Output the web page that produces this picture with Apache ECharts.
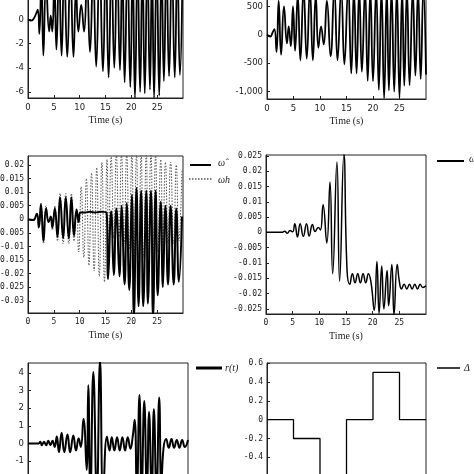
<!DOCTYPE html>
<html><head><meta charset="utf-8">
<script src="https://cdn.jsdelivr.net/npm/echarts@6/dist/echarts.min.js"></script>
<style>html,body{margin:0;padding:0;background:#fff}#c{width:474px;height:474px}</style>
</head><body><div id="c"></div>
<script>
// ---- data (extrema points) ----
const tTL=[0,0.5,1,1.6,1.9,2.2,2.6,2.97,3.5,4.1,4.4,4.7,5.1,5.5,6.0,6.5,7.0,7.6,8.2,8.8,9.3,9.75,10.3,10.85,11.4,12,12.6,13.2,13.85,14.5,15.05,15.6,16.15,16.7,17.25,17.8,18.25,18.7,19.25,19.8,20.25,20.7,21.2,21.7,22.15,22.6,23.1,23.6,24.0,24.4,24.9,25.4,25.85,26.3,26.8,27.3,27.85,28.4,28.9,29.4,29.9];
const yTL=[0,-0.1,0,0.5,0.8,-1.2,4,-3,3,-1,0.3,-1,3,-2.5,4,-3,4,-3.1,4,-3.1,2.5,-1,1.2,-1,3,-2.7,4,-3.9,4.5,-4.3,4.5,-4.8,4.5,-4,4.5,-4.2,4.5,-5.2,4.5,-5.6,4.5,-6.5,4.5,-6,4.5,-6.1,4.5,-5.8,4.5,-6.5,4.5,-6.3,4.5,-5.1,4.5,-4.7,4.5,-4.8,4.5,-4.6,4];
const tTR=[0,0.6,1.1,1.4,1.8,2.2,2.66,3.2,3.77,4.1,4.5,4.9,5.3,5.8,6.3,6.9,7.5,8.1,8.65,9.2,9.7,10.2,10.7,11.3,12.0,12.7,13.3,14.0,14.6,15.3,15.9,16.4,16.9,17.4,17.9,18.5,19.0,19.5,20.0,20.6,21.1,21.6,22.1,22.6,23.0,23.5,24.0,24.5,25.0,25.5,25.9,26.4,26.9,27.5,28.0,28.5,29.0,29.5,30];
const yTR=[0,-30,50,100,-300,600,-350,500,-150,150,-200,500,-280,700,-450,800,-420,800,-450,700,-230,150,-170,600,-380,800,-450,800,-520,800,-680,800,-680,800,-650,800,-810,800,-820,800,-970,800,-1120,800,-980,800,-1000,800,-1100,800,-900,800,-890,800,-720,800,-780,800,-700];
const tWh=[0,1,1.7,2.1,2.5,3.0,3.5,4.0,4.4,4.7,5.2,5.7,6.2,6.8,7.3,7.9,8.4,8.9,9.4,9.8,10.3,10.8,11.3,11.8,12.3,12.8,13.3,13.8,14.3,14.8,15.3,15.6,16.1,16.6,17.1,17.6,18.1,18.6,19.1,19.6,20.1,20.5,21.0,21.4,21.9,22.3,22.9,23.2,23.8,24.2,24.7,25.1,25.7,26.1,26.6,27.1,27.6,28.2,28.7,29.2,29.8];
const yWh=[0,-0.0003,0.002,-0.003,0.006,-0.009,0.005,-0.001,0.001,-0.004,0.005,-0.008,0.0095,-0.009,0.0095,-0.009,0.0095,-0.008,0.004,-0.012,0.012,-0.014,0.015,-0.017,0.017,-0.019,0.019,-0.021,0.021,-0.023,0.022,-0.008,0.023,-0.007,0.024,-0.007,0.024,-0.009,0.024,-0.011,0.024,-0.016,0.024,-0.014,0.024,-0.014,0.024,-0.013,0.024,-0.016,0.024,-0.012,0.022,-0.01,0.021,-0.009,0.021,-0.009,0.02,-0.008,0.018];
const tW=[0,1,1.7,2.1,2.5,3.0,3.5,4.0,4.4,4.7,5.2,5.7,6.2,6.8,7.3,7.9,8.4,8.9,9.4,9.8,10.1,11,12,13,14,15.2,15.5,16.1,16.6,17.1,17.7,18.1,18.7,19.1,19.6,20.1,20.5,21.0,21.4,21.9,22.3,22.9,23.2,23.8,24.2,24.7,25.1,25.7,26.1,26.6,27.1,27.6,28.2,28.7,29.2,29.8];
const yW=[0,-0.0003,0.002,-0.003,0.0055,-0.008,0.004,-0.001,0.001,-0.003,0.004,-0.0065,0.008,-0.007,0.008,-0.007,0.008,-0.006,0.0035,-0.001,0.0025,0.0025,0.0028,0.0025,0.0028,0.0025,-0.022,0.003,-0.0205,0.004,-0.021,0.005,-0.024,0.006,-0.026,0.009,-0.036,0.0115,-0.032,0.0105,-0.032,0.0105,-0.031,0.0105,-0.036,0.0105,-0.028,0.0065,-0.025,0.005,-0.024,0.005,-0.024,0.004,-0.023,0.001];
const tMR=[0,3,3.5,4,4.5,5.0,5.4,5.9,6.4,7.0,7.6,8.1,8.7,9.2,9.8,10.2,10.7,11.4,12.0,12.5,13.3,13.8,14.6,15.2,15.7,16.2,16.7,17.2,17.7,18.2,18.7,19.2,19.7,20.3,20.8,21.2,21.7,22.1,22.7,23.0,23.6,24.0,24.6,25.0,25.4,25.9,26.4,26.9,27.4,27.9,28.4,28.9,29.4,30];
const yMR=[0,0,0.0004,-0.0003,0.0006,0.0002,0.0028,-0.0015,0.0028,-0.0013,0.0028,-0.0012,0.0026,0.0003,0.0016,0.0008,0.009,-0.0035,0.0165,-0.0135,0.023,-0.016,0.0255,-0.0125,-0.017,-0.0135,-0.0165,-0.0135,-0.0165,-0.0135,-0.0165,-0.0135,-0.0165,-0.0255,-0.0095,-0.0265,-0.011,-0.025,-0.0125,-0.024,-0.0105,-0.027,-0.0105,-0.016,-0.0185,-0.017,-0.0185,-0.017,-0.0185,-0.017,-0.0185,-0.017,-0.018,-0.0175];
const tR=[0,2,2.3,2.6,3,3.4,3.8,4.2,4.6,5.0,5.4,5.8,6.3,6.8,7.4,7.9,8.5,9.0,9.5,9.9,10.4,11.0,11.3,11.7,12.25,12.9,13.5,14.1,14.8,15.3,15.7,16.2,16.7,17.2,17.7,18.2,18.7,19.2,19.6,20.0,20.4,20.9,21.3,21.8,22.3,22.7,23.2,23.6,24.1,24.6,25.0,25.4,25.9,26.4,26.9,27.4,27.9,28.4,28.9,29.4,30];
const yR=[0,0,0.1,-0.1,0.1,-0.1,0.15,-0.1,0.15,-0.2,0.4,-0.5,0.6,-0.5,0.5,-0.5,0.45,-0.4,0.3,-0.2,1.4,-1.5,3.3,-3,4.05,-3,4.7,-3,0.4,-0.4,0.35,-0.4,0.35,-0.4,0.35,-0.4,0.35,-0.3,0.3,1.35,-3,2.75,-3,2.4,-3,1.8,-3,1.95,-3,2.6,-2.5,-0.3,0.25,-0.25,0.25,-0.25,0.2,-0.25,0.2,-0.2,0.2];
const tD=[0,5,10,15,20,25,30];
const yD=[0,-0.2,-0.8,0,0.5,0,0];
const xTicks=[0,5,10,15,20,25];
const tickTL=[-6,-4,-2,0,2], tickTR=[-1000,-500,0,500];
const tickML=[-0.03,-0.025,-0.02,-0.015,-0.01,-0.005,0,0.005,0.01,0.015,0.02];
const tickMR=[-0.025,-0.02,-0.015,-0.01,-0.005,0,0.005,0.01,0.015,0.02,0.025];
const tickBL=[-1,0,1,2,3,4], tickBR=[-0.4,-0.2,0,0.2,0.4,0.6];

const zip=(a,b)=>a.map((v,i)=>[v,b[i]]);
const grids=[
 {left:28,width:155,top:-29,height:127},
 {left:267,width:159,top:-22,height:121},
 {left:28,width:155,top:156,height:157},
 {left:266,width:160,top:155,height:159},
 {left:28,width:160,top:363,height:151},
 {left:267,width:159,top:363,height:151}];
const yr=[[-6.5,4,tickTL,'sans'],[-1130,1000,tickTR,'sans'],[-0.0345,0.0233,tickML,'mono'],[-0.0267,0.0253,tickMR,'mono'],[-4,4.56,tickBL,'sans'],[-1,0.6,tickBR,'mono']];
const fam={sans:'DejaVu Sans',mono:'DejaVu Sans Mono'};
const fs={sans:8.5,mono:8};
const xAxis=grids.map((g,i)=>({type:'value',gridIndex:i,min:0,max:30,
 axisLine:{show:true,onZero:false,lineStyle:{color:'#222',width:1}},splitLine:{show:false},
 axisTick:{inside:true,length:3,customValues:xTicks,lineStyle:{color:'#222'}},
 axisLabel:{customValues:xTicks,fontSize:fs[yr[i][3]],color:'#222',fontFamily:fam[yr[i][3]],margin:5},
 name:(i<4?'Time (s)':''),nameLocation:'middle',nameGap:17,nameTextStyle:{fontFamily:'Liberation Serif',fontSize:10,color:'#222'}}));
const yAxis=grids.map((g,i)=>({type:'value',gridIndex:i,min:yr[i][0],max:yr[i][1],
 axisLine:{show:true,lineStyle:{color:'#222',width:1}},splitLine:{show:false},
 axisTick:{inside:true,length:3,customValues:yr[i][2],lineStyle:{color:'#222'}},
 axisLabel:{customValues:yr[i][2],fontSize:fs[yr[i][3]],color:'#222',fontFamily:fam[yr[i][3]],margin:4}}));
const ls=(w)=>({color:'#000',width:w});
const series=[
 {type:'line',xAxisIndex:0,yAxisIndex:0,data:zip(tTL,yTL),smooth:0.5,showSymbol:false,lineStyle:ls(1.8)},
 {type:'line',xAxisIndex:1,yAxisIndex:1,data:zip(tTR,yTR),smooth:0.5,showSymbol:false,lineStyle:ls(1.8)},
 {type:'line',xAxisIndex:2,yAxisIndex:2,data:zip(tWh,yWh),smooth:0.5,showSymbol:false,lineStyle:{color:'#555',width:1,type:[1.5,1.5]}},
 {type:'line',xAxisIndex:2,yAxisIndex:2,data:zip(tW,yW),smooth:0.5,showSymbol:false,lineStyle:ls(2)},
 {type:'line',xAxisIndex:3,yAxisIndex:3,data:zip(tMR,yMR),smooth:0.5,showSymbol:false,lineStyle:ls(1.5)},
 {type:'line',xAxisIndex:4,yAxisIndex:4,data:zip(tR,yR),smooth:0.5,showSymbol:false,lineStyle:ls(2)},
 {type:'line',xAxisIndex:5,yAxisIndex:5,data:zip(tD,yD),step:'end',showSymbol:false,lineStyle:ls(1.3)}];
grids.forEach(g=>{g.show=true;g.borderColor='#222';g.borderWidth=1;g.backgroundColor='transparent';g.containLabel=false;g.outerBoundsMode='none';});
const lg=(x1,x2,y,dash,w)=>({type:'line',shape:{x1,y1:y,x2,y2:y},style:{stroke:'#000',lineWidth:w,lineDash:dash}});
const tx=(x,y,t)=>({type:'text',x,y,style:{text:t,font:'italic 10px Liberation Serif',fill:'#222',textVerticalAlign:'middle'}});
const chart=echarts.init(document.getElementById('c'));
chart.setOption({animation:false,grid:grids,xAxis,yAxis,series,
 graphic:[lg(190,211,165,null,2),tx(218,163,'ω̂'),lg(189,212,179,[1.5,1.5],1),tx(218,180,'ωh'),
  lg(437,464,161,null,2),tx(469,159,'ω̂'),
  lg(196,222,368,null,3),tx(225,368,'r(t)'),
  lg(437,460,368,null,1.5),tx(464,368,'Δ')]});
</script></body></html>
